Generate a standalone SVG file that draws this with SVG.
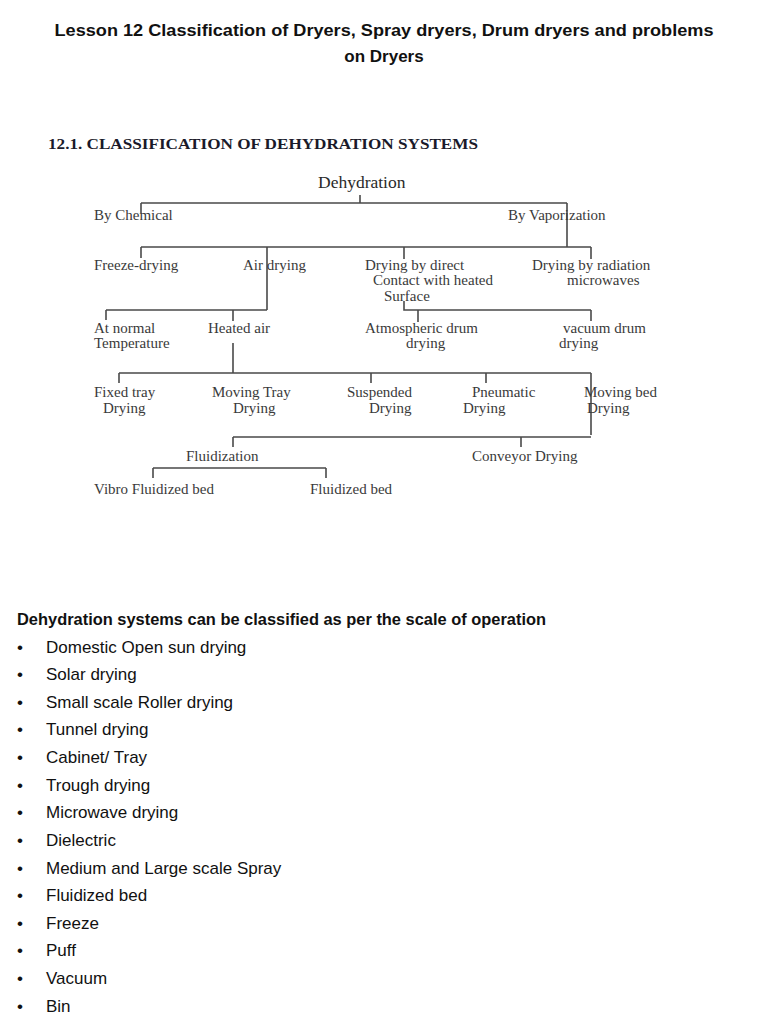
<svg xmlns="http://www.w3.org/2000/svg" width="768" height="1024" viewBox="0 0 768 1024">
<style>
.title{font-family:"Liberation Sans",Arial,sans-serif;font-weight:bold;font-size:17px;fill:#111}
.sec{font-family:"Liberation Serif","Times New Roman",serif;font-weight:bold;font-size:15px;fill:#1a1a2a}
.t{font-family:"Liberation Serif","Times New Roman",serif;font-size:15px;fill:#3a3a3a}
.big{font-family:"Liberation Serif","Times New Roman",serif;font-size:17.5px;fill:#2a2a2a}
.h{font-family:"Liberation Sans",Arial,sans-serif;font-weight:bold;font-size:16px;fill:#111}
.b{font-family:"Liberation Sans",Arial,sans-serif;font-size:17px;fill:#111}
.ln{stroke:#4a4a4a;stroke-width:1.6;fill:none}
</style>
<rect width="768" height="1024" fill="#fff"/>
<text class="title" x="384" y="36" text-anchor="middle" textLength="659" lengthAdjust="spacingAndGlyphs">Lesson 12 Classification of Dryers, Spray dryers, Drum dryers and problems</text>
<text class="title" x="384" y="62" text-anchor="middle">on Dryers</text>
<text class="sec" x="48" y="149" textLength="430" lengthAdjust="spacingAndGlyphs">12.1. CLASSIFICATION OF DEHYDRATION SYSTEMS</text>

<g id="connectors" class="ln">
<path d="M360 195V203M141 203H567M141 203V213M567 203V247"/>
<path d="M141 247H591M141 247V258M267 247V310M404 247V259M591 247V259"/>
<path d="M106 310H267M106 310V320M233 310V321"/>
<path d="M404 301V310H591M418 310V322M591 310V321"/>
<path d="M233 343V373M119 373H591M119 373V383M371 373V383M486 373V383M591 373V435"/>
<path d="M233 437H591M233 437V447M521 437V447"/>
<path d="M153 468H326M153 468V478M326 468V478"/>
</g>

<g id="n-dehydration"><text class="big" x="318" y="188">Dehydration</text></g>
<g id="n-chemical"><text class="t" x="94" y="220">By Chemical</text></g>
<g id="n-vaporization"><text class="t" x="508" y="220">By Vaporization</text></g>
<g id="n-freeze"><text class="t" x="94" y="270">Freeze-drying</text></g>
<g id="n-air"><text class="t" x="243" y="270">Air drying</text></g>
<g id="n-direct"><text class="t" x="365" y="270">Drying by direct</text><text class="t" x="373" y="285">Contact with heated</text><text class="t" x="384" y="301">Surface</text></g>
<g id="n-radiation"><text class="t" x="532" y="270">Drying by radiation</text><text class="t" x="567" y="285">microwaves</text></g>
<g id="n-normal"><text class="t" x="94" y="333">At normal</text><text class="t" x="94" y="348">Temperature</text></g>
<g id="n-heated"><text class="t" x="208" y="333">Heated air</text></g>
<g id="n-atmo"><text class="t" x="365" y="333">Atmospheric drum</text><text class="t" x="406" y="348">drying</text></g>
<g id="n-vacuum"><text class="t" x="563" y="333">vacuum drum</text><text class="t" x="559" y="348">drying</text></g>
<g id="n-fixed"><text class="t" x="94" y="397">Fixed tray</text><text class="t" x="103" y="413">Drying</text></g>
<g id="n-movingtray"><text class="t" x="212" y="397">Moving Tray</text><text class="t" x="233" y="413">Drying</text></g>
<g id="n-suspended"><text class="t" x="347" y="397">Suspended</text><text class="t" x="369" y="413">Drying</text></g>
<g id="n-pneumatic"><text class="t" x="472" y="397">Pneumatic</text><text class="t" x="463" y="413">Drying</text></g>
<g id="n-movingbed"><text class="t" x="584" y="397">Moving bed</text><text class="t" x="587" y="413">Drying</text></g>
<g id="n-fluidization"><text class="t" x="186" y="461">Fluidization</text></g>
<g id="n-conveyor"><text class="t" x="472" y="461">Conveyor Drying</text></g>
<g id="n-vibro"><text class="t" x="94" y="494">Vibro Fluidized  bed</text></g>
<g id="n-fluidbed"><text class="t" x="310" y="494">Fluidized bed</text></g>

<text class="h" x="17" y="625" textLength="529" lengthAdjust="spacingAndGlyphs">Dehydration systems can be classified as per the scale of operation</text>
<g class="b">
<text x="17" y="653">•</text><text x="46" y="653">Domestic Open sun drying</text>
<text x="17" y="680">•</text><text x="46" y="680">Solar drying</text>
<text x="17" y="708">•</text><text x="46" y="708">Small scale Roller drying</text>
<text x="17" y="735">•</text><text x="46" y="735">Tunnel drying</text>
<text x="17" y="763">•</text><text x="46" y="763">Cabinet/ Tray</text>
<text x="17" y="791">•</text><text x="46" y="791">Trough drying</text>
<text x="17" y="818">•</text><text x="46" y="818">Microwave drying</text>
<text x="17" y="846">•</text><text x="46" y="846">Dielectric</text>
<text x="17" y="874">•</text><text x="46" y="874">Medium and Large scale Spray</text>
<text x="17" y="901">•</text><text x="46" y="901">Fluidized bed</text>
<text x="17" y="929">•</text><text x="46" y="929">Freeze</text>
<text x="17" y="956">•</text><text x="46" y="956">Puff</text>
<text x="17" y="984">•</text><text x="46" y="984">Vacuum</text>
<text x="17" y="1012">•</text><text x="46" y="1012">Bin</text>
</g>
</svg>
